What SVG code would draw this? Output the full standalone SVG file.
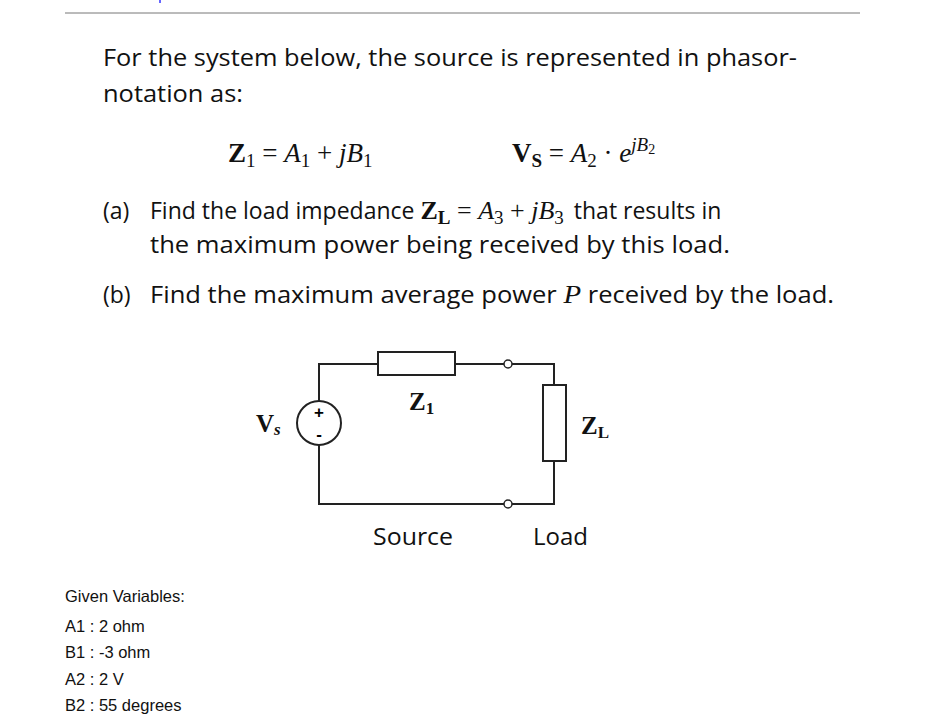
<svg xmlns="http://www.w3.org/2000/svg" width="926" height="725" viewBox="0 0 926 725">
<style>
.t{font-family:"Open Sans","Liberation Sans",sans-serif;font-size:23px;fill:#111}
.m{font-family:"Liberation Serif",serif;font-size:27px;fill:#111}
.mb{font-family:"Liberation Serif",serif;font-size:27px;font-weight:bold;fill:#111}
.g{font-family:"Liberation Sans",Arial,sans-serif;font-size:16.5px;fill:#111}
.w{stroke:#222;stroke-width:2;fill:none}
</style>
<rect width="926" height="725" fill="#fff"/>
<line x1="65" y1="13" x2="860" y2="13" stroke="#777" stroke-width="1"/>
<line x1="160" y1="0" x2="160" y2="3" stroke="#33f" stroke-width="1.5"/>
<text class="t" x="103" y="66" textLength="694" lengthAdjust="spacingAndGlyphs">For the system below, the source is represented in phasor-</text>
<text class="t" x="103" y="102" textLength="140" lengthAdjust="spacingAndGlyphs">notation as:</text>
<text class="m" x="228" y="162"><tspan class="mb">Z</tspan><tspan style="font-size:19px" dy="5">1</tspan><tspan dy="-5"> = </tspan><tspan font-style="italic">A</tspan><tspan style="font-size:19px" dy="5">1</tspan><tspan dy="-5"> + </tspan><tspan font-style="italic">jB</tspan><tspan style="font-size:19px" dy="5">1</tspan></text>
<text class="m" x="512" y="162"><tspan class="mb">V</tspan><tspan style="font-size:19px;font-weight:bold" dy="5">S</tspan><tspan dy="-5"> = </tspan><tspan font-style="italic">A</tspan><tspan style="font-size:19px" dy="5">2</tspan><tspan dy="-5"> · </tspan><tspan font-style="italic">e</tspan><tspan style="font-size:19px;font-style:italic" dy="-11">jB</tspan><tspan style="font-size:14px" dy="3">2</tspan></text>
<text class="t" x="103" y="219">(a)</text>
<text class="t" x="150" y="219">Find the load impedance <tspan class="mb" style="font-size:26px">Z</tspan><tspan class="m" style="font-size:19px;font-weight:bold" dy="5">L</tspan><tspan class="m" style="font-size:26px" dy="-5"> = </tspan><tspan class="m" style="font-size:26px;font-style:italic">A</tspan><tspan class="m" style="font-size:19px" dy="5">3</tspan><tspan class="m" style="font-size:26px" dy="-5"> + </tspan><tspan class="m" style="font-size:26px;font-style:italic">jB</tspan><tspan class="m" style="font-size:19px" dy="5">3</tspan><tspan dy="-5" dx="4"> that results in</tspan></text>
<text class="t" x="150" y="253" textLength="580" lengthAdjust="spacingAndGlyphs">the maximum power being received by this load.</text>
<text class="t" x="103" y="303">(b)</text>
<text class="t" x="150" y="303" textLength="684" lengthAdjust="spacingAndGlyphs">Find the maximum average power <tspan class="m" style="font-size:26px;font-style:italic">P</tspan> received by the load.</text>
<g id="connectors" class="w">
<polyline points="378,364 319,364 319,401"/>
<polyline points="319,445 319,504 504,504"/>
<line x1="455" y1="364" x2="504" y2="364"/>
<polyline points="512,364 554,364 554,385"/>
<polyline points="554,461 554,504 512,504"/>
</g>
<g id="source"><circle cx="319" cy="423" r="22" class="w"/><text x="319" y="418" text-anchor="middle" font-family="Liberation Sans,sans-serif" font-size="17" font-weight="bold">+</text><text x="319" y="440" text-anchor="middle" font-family="Liberation Sans,sans-serif" font-size="17" font-weight="bold">-</text>
<text class="mb" x="256" y="432" style="font-size:25px">V<tspan style="font-size:17px;font-style:italic" dy="3">s</tspan></text></g>
<g id="z1"><rect x="378" y="352" width="77" height="23" class="w" fill="#fff"/><text class="mb" x="409" y="410" style="font-size:25px">Z<tspan style="font-size:17px" dy="4">1</tspan></text></g>
<g id="zl"><rect x="543" y="385" width="23" height="76" class="w" fill="#fff"/><text class="mb" x="581" y="434" style="font-size:25px">Z<tspan style="font-size:17px" dy="4">L</tspan></text></g>
<g id="terminals" fill="#fff" stroke="#222" stroke-width="1.5"><circle cx="508" cy="364" r="4"/><circle cx="508" cy="504" r="4"/></g>
<text class="t" x="373" y="545" textLength="80" lengthAdjust="spacingAndGlyphs">Source</text>
<text class="t" x="533" y="545" textLength="55" lengthAdjust="spacingAndGlyphs">Load</text>
<text class="g" x="65" y="602">Given Variables:</text>
<text class="g" x="65" y="632">A1 : 2 ohm</text>
<text class="g" x="65" y="658">B1 : -3 ohm</text>
<text class="g" x="65" y="685">A2 : 2 V</text>
<text class="g" x="65" y="711">B2 : 55 degrees</text>
</svg>
